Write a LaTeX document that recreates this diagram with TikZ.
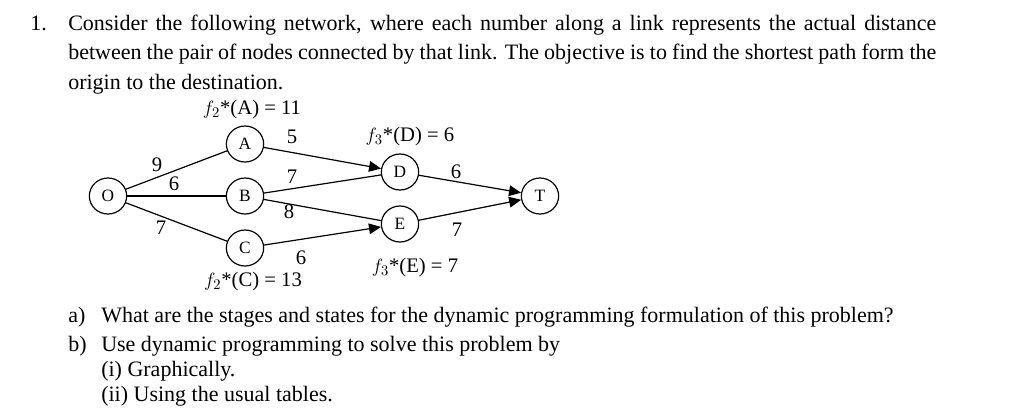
\documentclass[tikz,border=0pt]{standalone}
\usepackage{fontspec}
\setmainfont{Liberation Serif}
\usetikzlibrary{arrows.meta,shapes.geometric}
\begin{document}
\begin{tikzpicture}[x=0.75pt,y=-0.75pt,
  nd/.style={draw,ellipse,minimum width=28pt,minimum height=27pt,inner sep=0pt,line width=0.9pt,font=\fontsize{13}{15}\selectfont},
  lbl/.style={font=\fontsize{15.5}{18}\selectfont,inner sep=0pt},
  txt/.style={font=\fontsize{16.5}{22.5}\selectfont,inner sep=0pt,anchor=base west},
  arr/.style={-{Triangle[length=9pt,width=8pt]}},
  edge/.style={line width=0.9pt}]
\useasboundingbox (0,0) rectangle (1029,419);
\node[txt] (n1) at (30,30) {1.};
\node[txt] (p1) at (68,30) {\parbox[t]{651pt}{\fontsize{16.5}{22.3}\selectfont Consider the following network, where each number along a link represents the actual distance between the pair of nodes connected by that link. The objective is to find the shortest path form the origin to the destination.}};
\node[nd] (O) at (108,196) {O};
\node[nd] (A) at (245,144) {A};
\node[nd] (B) at (245,196) {B};
\node[nd] (C) at (245,248) {C};
\node[nd] (D) at (400,172) {D};
\node[nd] (E) at (400,224) {E};
\node[nd] (T) at (540,196) {T};
\draw[edge] (O) -- (A);
\draw[edge] (O) -- (B);
\draw[edge] (O) -- (C);
\draw[edge,arr] (A) -- (D);
\draw[edge] (B) -- (D);
\draw[edge] (B) -- (E);
\draw[edge,arr] (C) -- (E);
\draw[edge,arr] (D) -- (T);
\draw[edge,arr] (E) -- (T);
\node[lbl] (l1) at (157,165) {9};
\node[lbl] (l2) at (174,184) {6};
\node[lbl] (l3) at (161,228) {7};
\node[lbl] (l4) at (292,137) {5};
\node[lbl] (l5) at (292,177) {7};
\node[lbl] (l6) at (289,212) {8};
\node[lbl] (l7) at (301,258) {6};
\node[lbl] (l8) at (456,172) {6};
\node[lbl] (l9) at (457,230) {7};
\node[lbl] (fA) at (252,110) {$f_2$*(A) = 11};
\node[lbl] (fD) at (410,137) {$f_3$*(D) = 6};
\node[lbl] (fE) at (415,268) {$f_3$*(E) = 7};
\node[lbl] (fC) at (253,282) {$f_2$*(C) = 13};
\node[txt] (a) at (68,322) {a)};
\node[txt] (at) at (101,322) {What are the stages and states for the dynamic programming formulation of this problem?};
\node[txt] (b) at (68,351) {b)};
\node[txt] (bt) at (101,351) {Use dynamic programming to solve this problem by};
\node[txt] (bi) at (101,376) {(i) Graphically.};
\node[txt] (bii) at (101,401) {(ii) Using the usual tables.};
\end{tikzpicture}
\end{document}
